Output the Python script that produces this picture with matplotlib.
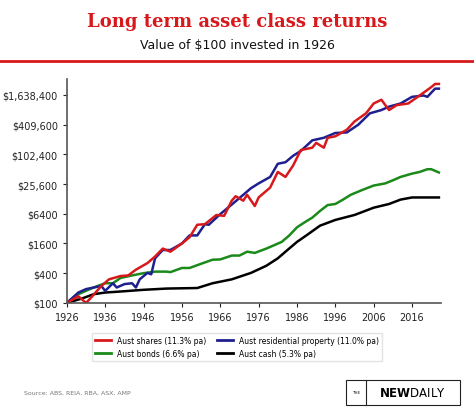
import matplotlib
matplotlib.use("Agg")
import matplotlib.pyplot as plt
from matplotlib.patches import Rectangle
from matplotlib.lines import Line2D

shares_years = [1926,1929,1931,1932,1935,1937,1940,1942,1944,1947,1949,1951,1953,1956,1958,1960,1962,1965,1967,1969,1970,1972,1973,1975,1976,1979,1981,1983,1985,1987,1990,1991,1993,1994,1996,1999,2001,2004,2006,2008,2010,2012,2015,2018,2021,2022,2023]
shares = [100,136,100,120,220,300,350,360,470,640,870,1260,1090,1600,2140,3830,3940,6050,5800,11800,14500,11800,15500,9200,13700,21700,45100,35700,61000,125000,140000,175000,140000,222000,238000,323000,475000,695000,1100000,1310000,810000,1020000,1100000,1600000,2360000,2740000,2740000]

prop_years = [1926,1929,1931,1933,1935,1936,1938,1939,1941,1943,1944,1945,1947,1948,1949,1951,1953,1956,1958,1960,1962,1963,1966,1969,1972,1974,1976,1979,1981,1983,1985,1987,1990,1993,1996,1999,2002,2005,2008,2010,2013,2016,2019,2020,2022,2023]
prop = [100,162,190,205,220,175,250,205,240,250,205,300,405,380,800,1180,1180,1600,2330,2330,3940,3830,6300,9850,15500,21100,26400,35700,66000,71000,96000,120000,197000,222000,278000,285000,410000,695000,810000,950000,1100000,1500000,1600000,1500000,2200000,2200000]

bond_years = [1926,1929,1932,1934,1936,1938,1940,1943,1946,1949,1952,1953,1956,1958,1961,1964,1966,1969,1971,1973,1975,1978,1980,1982,1984,1986,1988,1990,1992,1994,1996,1998,2000,2003,2006,2009,2011,2013,2016,2018,2020,2021,2023]
bonds = [100,150,190,220,250,250,320,360,400,430,430,420,510,510,620,750,760,910,910,1090,1030,1260,1470,1720,2330,3400,4300,5350,7300,9600,10100,12400,15500,19400,23900,26400,30500,35700,41700,45100,51200,51200,44000]

cash_years = [1926,1930,1933,1936,1940,1946,1952,1960,1964,1969,1974,1978,1981,1983,1986,1989,1992,1996,2001,2006,2010,2013,2016,2019,2023]
cash = [100,123,150,162,170,184,195,200,250,300,405,565,800,1090,1720,2500,3670,4800,6050,8500,10100,12400,13700,13700,13700]

yticks = [100,400,1600,6400,25600,102400,409600,1638400]
ytick_labels = ["$100","$400","$1600","$6400","$25,600","$102,400","$409,600","$1,638,400"]
xticks = list(range(1926, 2017, 10))
labels = ["Aust shares (11.3% pa)", "Aust residential property (11.0% pa)", "Aust bonds (6.6% pa)", "Aust cash (5.3% pa)"]
colors = ["#d7191c", "#1f1f8f", "#1a8a1a", "#000000"]

fig = plt.figure(figsize=(4.74, 4.14), dpi=100)
ax = fig.add_axes([0.141, 0.266, 0.789, 0.54])
ax.plot(cash_years, cash, color=colors[3], lw=1.8)
ax.plot(bond_years, bonds, color=colors[2], lw=1.8)
ax.plot(prop_years, prop, color=colors[1], lw=1.8)
ax.plot(shares_years, shares, color=colors[0], lw=1.8)
ax.set_yscale("log")
ax.set_yticks(yticks)
ax.set_yticklabels(ytick_labels)
ax.minorticks_off()
ax.set_xticks(xticks)
ax.set_xlim(1926, 2023.5)
ax.set_ylim(100, 3.4e6)
for s in ["top", "right"]:
    ax.spines[s].set_visible(False)
for s in ["left", "bottom"]:
    ax.spines[s].set_color("#555555")
    ax.spines[s].set_linewidth(1.2)
ax.tick_params(labelsize=7, colors="#222222", length=3)

fig.text(0.5, 0.948, "Long term asset class returns", ha="center", va="center",
         fontsize=13, fontweight="bold", color="#d7191c", family="DejaVu Serif")
fig.text(0.5, 0.891, "Value of $100 invested in 1926", ha="center", va="center", fontsize=9, color="#111111")
fig.add_artist(Line2D([0, 1], [0.851, 0.851], color="#d7191c", lw=2))

handles = [Line2D([], [], color=c, lw=2) for c in colors]
order = [0, 2, 1, 3]
leg = fig.legend([handles[i] for i in order], [labels[i] for i in order], ncol=2,
                 loc="center", bbox_to_anchor=(0.5, 0.16), fontsize=5.5, frameon=True,
                 fancybox=False, edgecolor="#dddddd", handlelength=2, columnspacing=1.5)

fig.text(0.05, 0.05, "Source: ABS, REIA, RBA, ASX, AMP", fontsize=4.5, color="#777777", va="center")
fig.add_artist(Rectangle((0.73, 0.02), 0.24, 0.06, transform=fig.transFigure, fill=False, ec="#222222", lw=0.8))
fig.add_artist(Line2D([0.773, 0.773], [0.02, 0.08], color="#222222", lw=0.8))
fig.text(0.751, 0.05, "THE", fontsize=3, ha="center", va="center")
fig.text(0.87, 0.05, r"$\bf{NEW}$DAILY", fontsize=8.5, ha="center", va="center")

fig.savefig("out.png", dpi=100)
